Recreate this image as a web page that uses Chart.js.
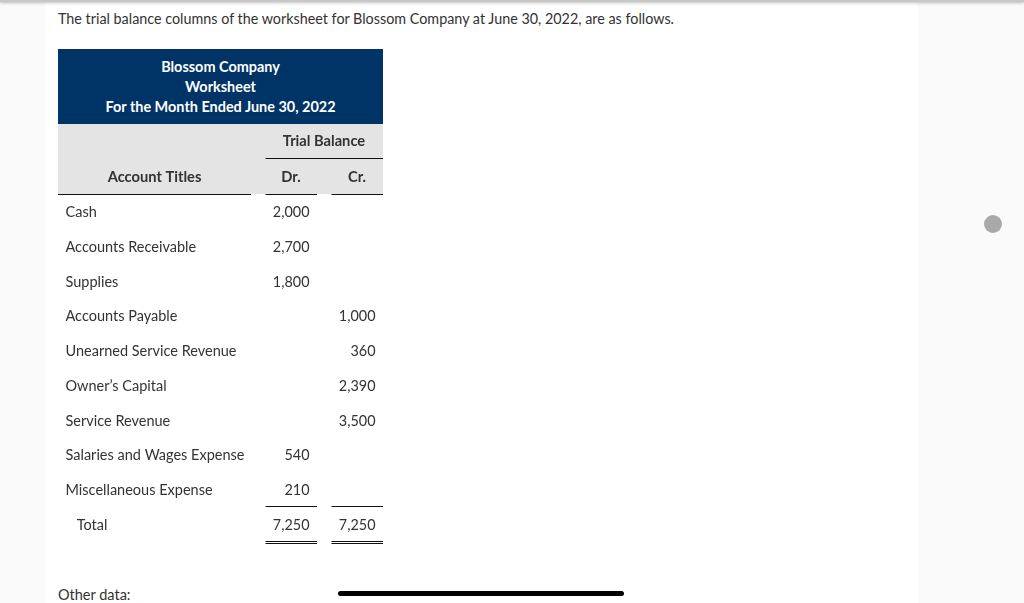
<!DOCTYPE html>
<html>
<head>
<meta charset="utf-8">
<style>
html, body { margin: 0; padding: 0; width: 1024px; height: 603px; overflow: hidden; background: #fafafa; font-family: Lato, sans-serif; color: #333; }
.abs { position: absolute; }
#panel { left: 45px; top: 0; width: 873px; height: 603px; background: #fff; }
#shade { left: 0; top: 0; width: 1024px; height: 2px; background: #c8c8c8; box-shadow: 0 1px 3px rgba(0,0,0,.3); }
#intro { left: 58px; top: 10px; font-size: 14.35px; line-height: 18px; white-space: nowrap; }
#other { left: 58px; top: 585.5px; font-size: 14.5px; line-height: 18px; white-space: nowrap; }
#head { left: 58px; top: 49px; width: 325px; height: 75px; background: #003366; color: #fff; text-align: center; font-size: 14.45px; font-weight: 700; line-height: 20px; padding-top: 8px; box-sizing: border-box; }
#grey { left: 58px; top: 124px; width: 325px; height: 70px; background: #e4e4e4; }
#bar { left: 338px; top: 591px; width: 286px; height: 5px; border-radius: 3px; background: #000; }
#dot { left: 984px; top: 215px; width: 18px; height: 18px; border-radius: 50%; background: #a9a9a9; }
canvas { position: absolute; left: 0; top: 0; }
</style>
</head>
<body>
<div class="abs" id="panel"></div>
<div class="abs" id="shade"></div>
<div class="abs" id="intro">The trial balance columns of the worksheet for Blossom Company at June 30, 2022, are as follows.</div>
<div class="abs" id="head">Blossom Company<br>Worksheet<br>For the Month Ended June 30, 2022</div>
<div class="abs" id="grey"></div>
<div class="abs" id="other">Other data:</div>
<div class="abs" id="bar"></div>
<div class="abs" id="dot"></div>
<canvas id="sheet" width="1024" height="603"></canvas>
<script src="https://cdn.jsdelivr.net/npm/chart.js@4/dist/chart.umd.js"></script>
<script>
const accounts = ['Cash', 'Accounts Receivable', 'Supplies', 'Accounts Payable', 'Unearned Service Revenue', "Owner\u2019s Capital", 'Service Revenue', 'Salaries and Wages Expense', 'Miscellaneous Expense', 'Total'];
const columns = ['Dr.', 'Cr.'];
const debits = [2000, 2700, 1800, null, null, null, null, 540, 210, 7250];
const credits = [null, null, null, 1000, 360, 2390, 3500, null, null, 7250];

const textColor = '#333';
const ruleColor = '#111';
const tableFont = '14.4px Lato';

function cells(col, values) {
	let out = [];
	values.forEach((v, i) => {
		if (v !== null) out.push({ x: col, y: accounts[i], v: v });
	});
	return out;
}

function rule(ctx, x1, x2, y) {
	ctx.beginPath();
	ctx.moveTo(x1, y);
	ctx.lineTo(x2, y);
	ctx.stroke();
}

// amounts, headings and underlines, all placed from the chart's scales
const tablePlugin = {
	id: 'table',
	afterDatasetsDraw(chart) {
		let ctx = chart.ctx;
		let xs = chart.scales.x;
		let ys = chart.scales.y;
		let drX = xs.getPixelForValue(0);
		let crX = xs.getPixelForValue(1);
		let half = 25.5;
		ctx.save();
		ctx.fillStyle = textColor;
		ctx.font = tableFont;
		ctx.textBaseline = 'middle';
		ctx.textAlign = 'right';
		chart.data.datasets.forEach((ds, i) => {
			chart.getDatasetMeta(i).data.forEach((pt, j) => {
				ctx.fillText(ds.data[j].v.toLocaleString('en-US'), pt.x + 18.5, pt.y);
			});
		});
		ctx.font = 'bold 14.7px Lato';
		ctx.textAlign = 'center';
		ctx.fillText('Trial Balance', (drX + crX) / 2, 141.5);
		ctx.fillText('Account Titles', 154.5, 177);

		ctx.strokeStyle = ruleColor;
		ctx.lineWidth = 1;
		let top = 194.5;
		rule(ctx, drX - half, crX + half + 0.5, 158.5);
		rule(ctx, 58, 251, top);
		rule(ctx, drX - half, drX + half + 0.5, top);
		rule(ctx, crX - half, crX + half + 0.5, top);
		let lastY = Math.round(ys.getPixelForValue(accounts.length - 1));
		for (let x of [drX, crX]) {
			rule(ctx, x - half, x + half + 0.5, lastY - 18.5);
			rule(ctx, x - half, x + half + 0.5, lastY + 16.5);
			rule(ctx, x - half, x + half + 0.5, lastY + 18.5);
		}
		ctx.restore();
	}
};

new Chart(document.getElementById('sheet').getContext('2d'), {
	type: 'scatter',
	data: {
		datasets: [
			{ label: 'Dr.', data: cells('Dr.', debits), pointRadius: 0 },
			{ label: 'Cr.', data: cells('Cr.', credits), pointRadius: 0 }
		]
	},
	options: {
		responsive: false,
		animation: false,
		events: [],
		layout: { padding: { left: 65.5, top: 150, right: 634, bottom: 60.5 } },
		plugins: { legend: { display: false }, tooltip: { enabled: false }, title: { display: false } },
		scales: {
			x: {
				type: 'category',
				labels: columns,
				position: 'top',
				offset: true,
				grid: { display: false, drawTicks: false },
				border: { display: false },
				ticks: { color: textColor, font: { family: 'Lato', size: 14.7, weight: 'bold' }, padding: 9, maxRotation: 0, autoSkip: false },
				afterFit(scale) { scale.height = 45; }
			},
			y: {
				type: 'category',
				labels: accounts,
				offset: true,
				grid: { display: false, drawTicks: false },
				border: { display: false },
				ticks: {
					color: textColor,
					font: { family: 'Lato', size: 14.5 },
					crossAlign: 'far',
					autoSkip: false,
					// the total row is indented
					callback(value, index) { return (index === accounts.length - 1 ? '   ' : '') + accounts[index]; }
				},
				afterFit(scale) { scale.width = 192.5; }
			}
		}
	},
	plugins: [tablePlugin]
});
</script>
</body>
</html>
